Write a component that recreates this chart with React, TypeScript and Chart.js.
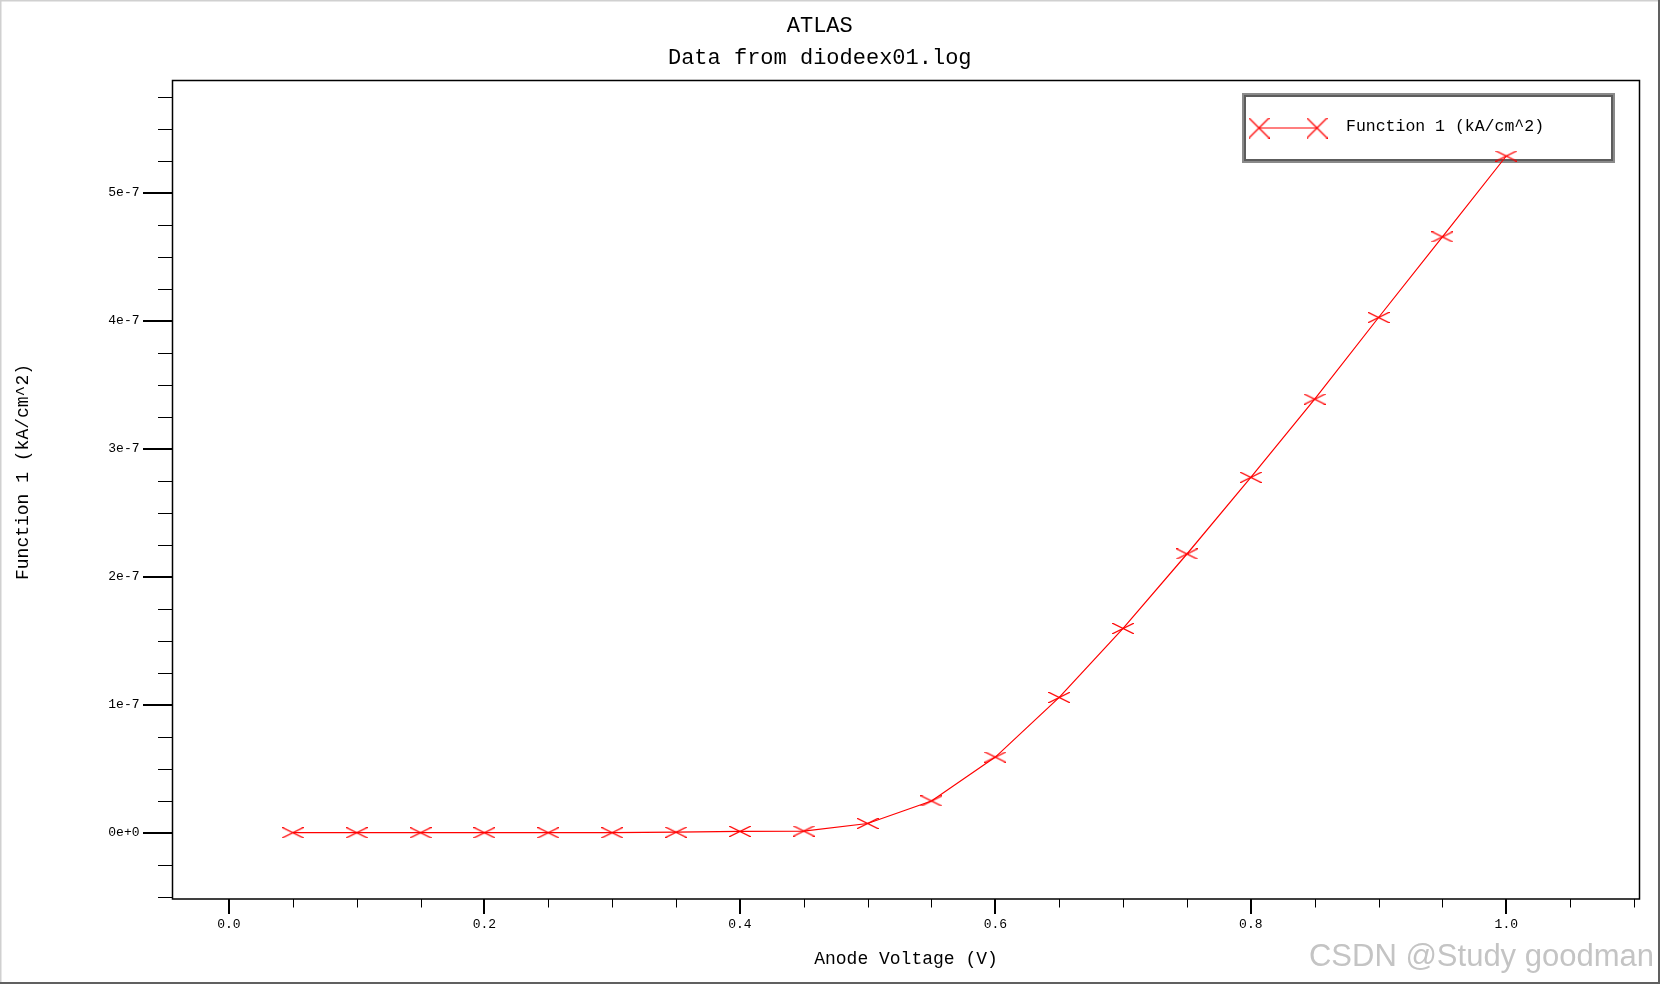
import React, { useEffect, useRef } from 'react';
import { Chart, registerables } from 'chart.js';

Chart.register(...registerables);

// ---------- data ----------
const titleLines = ['ATLAS', 'Data from diodeex01.log'];
const xAxisTitle = 'Anode Voltage (V)';
const yAxisTitle = 'Function 1 (kA/cm^2)';
const seriesLabel = 'Function 1 (kA/cm^2)';
const watermarkText = 'CSDN @Study goodman';

const anodeVoltage = [
  0.05, 0.1, 0.15, 0.2, 0.25, 0.3, 0.35, 0.4, 0.45, 0.5,
  0.55, 0.6, 0.65, 0.7, 0.75, 0.8, 0.85, 0.9, 0.95, 1.0,
];
const currentDensity = [
  0, 0, 0, 0, 0, 0, 0.004e-7, 0.01e-7, 0.013e-7, 0.072e-7,
  0.248e-7, 0.591e-7, 1.057e-7, 1.596e-7, 2.178e-7, 2.777e-7, 3.388e-7, 4.026e-7, 4.656e-7, 5.288e-7,
];

const xTickLabels = ['0.0', '0.2', '0.4', '0.6', '0.8', '1.0'];
const yTickLabels = ['0e+0', '1e-7', '2e-7', '3e-7', '4e-7', '5e-7'];

const X_MIN = -0.0442;
const X_MAX = 1.1043;
const X_MINOR = 0.05;
const X_MAJOR = 0.2;
const Y_MIN = -0.518e-7;
const Y_MAX = 5.878e-7;
const Y_MINOR = 0.25e-7;
const Y_MAJOR = 1e-7;

const MONO = '"Liberation Mono", "DejaVu Sans Mono", monospace';

function isMultiple(v: number, step: number) {
  const r = v / step;
  return Math.abs(r - Math.round(r)) < 1e-6;
}

function makeCross(w: number, h: number, lw: number) {
  const c = document.createElement('canvas');
  c.width = w;
  c.height = h;
  const g = c.getContext('2d')!;
  g.strokeStyle = '#ff0000';
  g.lineWidth = lw;
  g.beginPath();
  g.moveTo(0, 0);
  g.lineTo(w, h);
  g.moveTo(w, 0);
  g.lineTo(0, h);
  g.stroke();
  return c;
}

function tickValues(scale: any, step: number) {
  const out: number[] = [];
  const i0 = Math.ceil(scale.min / step - 1e-9);
  const i1 = Math.floor(scale.max / step + 1e-9);
  for (let i = i0; i <= i1; i++) out.push(i * step);
  return out;
}

const decorPlugin = {
  id: 'decor',
  beforeDatasetsDraw(chart: any) {
    const ctx = chart.ctx as CanvasRenderingContext2D;
    const a = chart.chartArea;
    ctx.save();
    // plot frame
    ctx.strokeStyle = '#000';
    ctx.lineWidth = 1.5;
    ctx.strokeRect(a.left, a.top, a.right - a.left, a.bottom - a.top);

    // legend box
    const lx = 1242, ly = 93, lw = 373, lh = 70;
    ctx.fillStyle = '#fff';
    ctx.fillRect(lx, ly, lw, lh);
    ctx.lineWidth = 2;
    ctx.strokeStyle = '#8a8a8a';
    ctx.strokeRect(lx + 1, ly + 1, lw - 2, lh - 2);
    ctx.strokeStyle = '#5c5c5c';
    ctx.strokeRect(lx + 3, ly + 3, lw - 6, lh - 6);

    // legend sample
    const ds = chart.data.datasets[0];
    const y0 = 128;
    const x1 = 1259, x2 = 1317;
    ctx.strokeStyle = '#ff0000';
    ctx.lineWidth = 1.2;
    ctx.beginPath();
    ctx.moveTo(x1, y0);
    ctx.lineTo(x2, y0);
    ctx.stroke();
    const legendCross = makeCross(21, 21, 1.3);
    ctx.drawImage(legendCross, x1 - 10.5, y0 - 10.5);
    ctx.drawImage(legendCross, x2 - 10.5, y0 - 10.5);
    ctx.fillStyle = '#000';
    ctx.font = '16.5px ' + MONO;
    ctx.textAlign = 'left';
    ctx.textBaseline = 'middle';
    ctx.fillText(ds.label, 1346, 127);
    ctx.restore();
  },
  afterDraw(chart: any) {
    const ctx = chart.ctx as CanvasRenderingContext2D;
    const a = chart.chartArea;
    const xs = chart.scales.x;
    const ys = chart.scales.y;
    ctx.save();
    ctx.strokeStyle = '#000';
    // x ticks
    for (const v of tickValues(xs, X_MINOR)) {
      const major = isMultiple(v, X_MAJOR);
      const px = Math.round(xs.getPixelForValue(v));
      ctx.lineWidth = major ? 2 : 1;
      ctx.beginPath();
      const xx = major ? px : px + 0.5;
      ctx.moveTo(xx, a.bottom);
      ctx.lineTo(xx, a.bottom + (major ? 15 : 8.5));
      ctx.stroke();
    }
    // y ticks
    for (const v of tickValues(ys, Y_MINOR)) {
      const major = isMultiple(v, Y_MAJOR);
      const py = Math.round(ys.getPixelForValue(v));
      ctx.lineWidth = major ? 2 : 1;
      const yy = major ? py : py + 0.5;
      ctx.beginPath();
      ctx.moveTo(a.left, yy);
      ctx.lineTo(a.left - (major ? 29.5 : 14.5), yy);
      ctx.stroke();
    }
    // y axis title
    ctx.fillStyle = '#000';
    ctx.font = '18px ' + MONO;
    ctx.textAlign = 'center';
    ctx.textBaseline = 'middle';
    ctx.translate(23, 472);
    ctx.rotate(-Math.PI / 2);
    ctx.fillText(yAxisTitle, 0, 0);
    ctx.restore();

    // watermark
    ctx.save();
    ctx.font = '31px "Liberation Sans", Arial, sans-serif';
    ctx.textAlign = 'right';
    ctx.textBaseline = 'alphabetic';
    ctx.fillStyle = 'rgba(255,255,255,0.9)';
    ctx.fillText(watermarkText, 1655, 967);
    ctx.fillStyle = '#c4c4c4';
    ctx.fillText(watermarkText, 1654, 966);
    ctx.restore();

    // outer frame of the picture
    ctx.save();
    ctx.fillStyle = '#d0d0d0';
    ctx.fillRect(0, 0, 1660, 1.5);
    ctx.fillRect(0, 0, 1.5, 984);
    ctx.fillStyle = '#606060';
    ctx.fillRect(1658, 0, 2, 984);
    ctx.fillRect(0, 982, 1660, 2);
    ctx.restore();
  },
};

export default function App() {
  const ref = useRef<HTMLCanvasElement | null>(null);

  useEffect(() => {
    const canvas = ref.current;
    if (!canvas) return;
    const pointCross = makeCross(22, 11, 1.2);
    const chart = new Chart(canvas, {
      type: 'line',
      data: {
        datasets: [
          {
            label: seriesLabel,
            data: anodeVoltage.map((x, i) => ({ x, y: currentDensity[i] })),
            borderColor: '#ff0000',
            backgroundColor: '#ff0000',
            borderWidth: 1.2,
            tension: 0,
            fill: false,
            pointStyle: pointCross as any,
            pointRadius: 5,
          },
        ],
      },
      options: {
        responsive: false,
        animation: false,
        events: [],
        layout: { padding: { left: 0, right: 20.5, top: 0, bottom: 0 } },
        plugins: {
          legend: { display: false },
          tooltip: { enabled: false },
          title: {
            display: true,
            text: titleLines,
            color: '#000',
            font: { family: MONO, size: 22, weight: 'normal', lineHeight: 31.7 / 22 },
            padding: { top: 10.6, bottom: 6.5 },
          },
        },
        scales: {
          x: {
            type: 'linear',
            min: X_MIN,
            max: X_MAX,
            grid: { display: false, drawTicks: false },
            border: { display: false },
            ticks: {
              stepSize: X_MINOR,
              includeBounds: false,
              autoSkip: false,
              maxRotation: 0,
              maxTicksLimit: 200,
              padding: 18,
              color: '#000',
              font: { family: MONO, size: 13 },
              callback: (v: any) => {
                const n = Number(v);
                if (!isMultiple(n, X_MAJOR)) return '';
                const idx = Math.round(n / X_MAJOR);
                return xTickLabels[idx] ?? '';
              },
            },
            title: {
              display: true,
              text: xAxisTitle,
              color: '#000',
              font: { family: MONO, size: 18 },
              padding: { top: 0, bottom: 13.5 },
            },
            afterFit: (s: any) => {
              s.height = 85;
            },
          },
          y: {
            type: 'linear',
            min: Y_MIN,
            max: Y_MAX,
            grid: { display: false, drawTicks: false },
            border: { display: false },
            ticks: {
              stepSize: Y_MINOR,
              includeBounds: false,
              autoSkip: false,
              maxTicksLimit: 200,
              padding: 33,
              color: '#000',
              font: { family: MONO, size: 13 },
              callback: (v: any) => {
                const n = Number(v);
                if (!isMultiple(n, Y_MAJOR)) return '';
                const idx = Math.round(n / Y_MAJOR);
                return yTickLabels[idx] ?? '';
              },
            },
            afterFit: (s: any) => {
              s.width = 172.5;
            },
          },
        },
      },
      plugins: [decorPlugin],
    });
    return () => chart.destroy();
  }, []);

  return (
    <div style={{ position: 'absolute', left: 0, top: 0, width: 1660, height: 984, background: '#fff' }}>
      <canvas ref={ref} width={1660} height={984} style={{ display: 'block', width: 1660, height: 984 }} />
    </div>
  );
}
